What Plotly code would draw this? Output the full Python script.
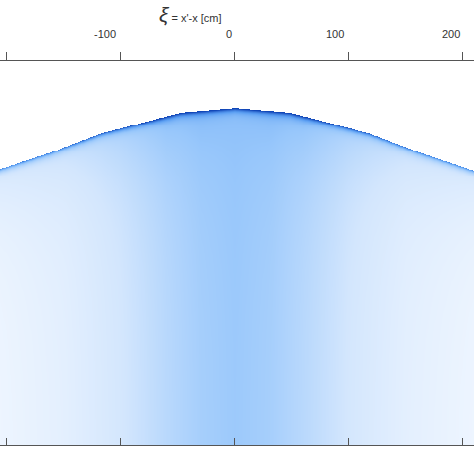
import numpy as np
import plotly.graph_objects as go

# top boundary of the filled region (fraction of plot height) vs xi [cm]
bound_x = [-210, -162, -118, -74, -48, 0, 48, 75, 118, 162, 212]
bound_y = [0.716, 0.763, 0.812, 0.846, 0.866, 0.878, 0.866, 0.846, 0.812, 0.763, 0.713]

# column intensity vs xi
col_x = [-210, -150, -100, -60, -30, 0, 30, 60, 100, 150, 212]
col_v = [0.04, 0.12, 0.24, 0.36, 0.44, 0.48, 0.44, 0.36, 0.24, 0.12, 0.04]

tick_vals = [-200, -100, 0, 100, 200]
label_x = [-114, -5, 88, 190]
label_text = ["-100", "0", "100", "200"]

xs = np.linspace(-206, 210, 420)
ys = np.linspace(0, 1, 400)
X, Y = np.meshgrid(xs, ys)
B = np.interp(X, bound_x, bound_y)
C = np.interp(X, col_x, col_v)
depth = B - Y
z = C + 0.12 * np.exp(-depth / 0.12) * (np.abs(X) / 60).clip(0, 1) \
    + 0.06 * np.exp(-depth / 0.2) + 0.55 * np.exp(-depth / 0.008)
z = np.where(depth < 0, np.nan, z)

fig = go.Figure()
fig.add_trace(go.Heatmap(
    x=xs, y=ys, z=z, zmin=0, zmax=1, zsmooth="best", showscale=False,
    hoverinfo="skip",
    colorscale=[[0, "#f3f8ff"], [0.25, "#d3e6fd"], [0.5, "#98c7fb"],
                [0.7, "#5a9ef2"], [1, "#1247b8"]],
))
fig.add_trace(go.Scatter(x=[0], y=[0], xaxis="x2", mode="markers",
                         marker=dict(opacity=0), showlegend=False, hoverinfo="skip"))

annotations = [dict(text=t, x=v, y=1.07, xref="x", yref="paper", showarrow=False,
                    xanchor="center", yanchor="middle", font=dict(size=11, color="#333"))
               for v, t in zip(label_x, label_text)]
annotations.append(dict(text="<i>ξ</i><span style='font-size:11px'> = x'-x [cm]</span>",
                        x=190 / 474, y=1.155, xref="paper", yref="paper",
                        xanchor="center", yanchor="top", showarrow=False,
                        font=dict(size=21, color="#333")))

fig.update_layout(
    width=474, height=474, margin=dict(l=0, r=0, t=61, b=29, autoexpand=False),
    plot_bgcolor="white", paper_bgcolor="white", showlegend=False,
    font=dict(family="Liberation Sans", size=11, color="#333"),
    xaxis=dict(side="top", range=[-206, 210], tickvals=tick_vals, showticklabels=False,
               ticks="outside", ticklen=8, tickcolor="#555", showline=True,
               linecolor="#555", showgrid=False, zeroline=False),
    xaxis2=dict(overlaying="x", side="bottom", range=[-206, 210], tickvals=tick_vals,
                showticklabels=False, ticks="inside", ticklen=7, tickcolor="#555",
                showline=True, linecolor="#555", showgrid=False, zeroline=False),
    yaxis=dict(range=[0, 1], visible=False),
    annotations=annotations,
)
fig.write_html("out.html", config={"displayModeBar": False},
               post_script="document.body.style.margin='0';")
